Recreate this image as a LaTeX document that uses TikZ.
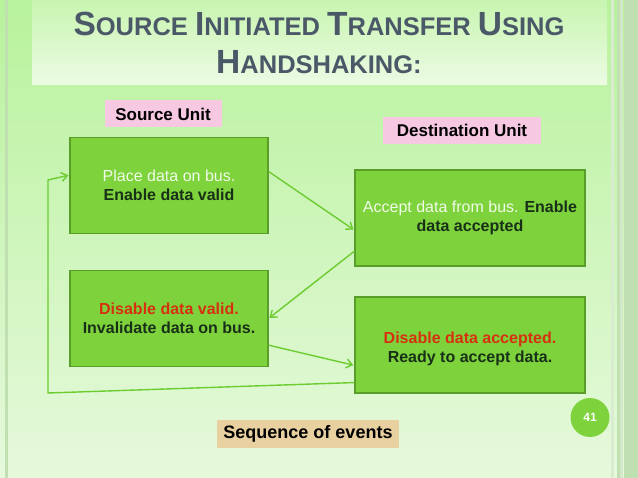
\documentclass[tikz,border=0pt]{standalone}
\usepackage{fontspec}
\setmainfont{Liberation Sans}
\usetikzlibrary{positioning, arrows.meta}

\definecolor{boxgreen}{RGB}{126,211,60}
\definecolor{boxline}{RGB}{88,158,40}
\definecolor{linkgreen}{RGB}{108,204,48}
\definecolor{bgtop}{RGB}{184,242,156}
\definecolor{bgbottom}{RGB}{230,249,220}
\definecolor{titletop}{RGB}{200,245,176}
\definecolor{titlebottom}{RGB}{236,251,228}
\definecolor{titleink}{RGB}{74,88,104}
\definecolor{tagpink}{RGB}{246,200,226}
\definecolor{tagtan}{RGB}{232,208,160}
\definecolor{darkink}{RGB}{24,48,24}
\definecolor{redink}{RGB}{214,48,16}
\definecolor{softwhite}{RGB}{240,250,232}
\definecolor{stripe}{RGB}{192,224,178}

\tikzstyle{event} = [draw = boxline, fill = boxgreen, line width = 1.2pt, minimum width = 198pt,
    minimum height = 96pt, align = center, inner sep = 2pt, font = \fontsize{16}{19}\selectfont]
\tikzstyle{tag} = [fill = tagpink, minimum height = 27pt, inner xsep = 6pt, font = \fontsize{17}{19}\selectfont\bfseries]
\tikzstyle{heading} = [text = titleink, anchor = base, inner sep = 0pt, font = \fontsize{25.5}{30}\selectfont\bfseries]
\tikzstyle{link} = [draw = linkgreen, line width = 1.4pt, -{Straight Barb[length = 6pt, width = 9pt]}, shorten > = 1pt]

\newcommand{\smallcap}[2]{{\fontsize{33.5}{34}\selectfont #1}#2}
\newcommand{\lowered}[1]{\raisebox{-4pt}[\height][\depth]{#1}}

\begin{document}
\begin{tikzpicture}[x = 1pt, y = -1pt]
        \useasboundingbox (0, 0) rectangle (638, 478);
        \shade [top color = bgtop, bottom color = bgbottom] (0, 0) rectangle (638, 478);
        \fill [stripe] (624, 0) rectangle (638, 478);
        \foreach \X/\C in {611/white!40!stripe, 617/stripe, 620/white!30!stripe, 5/stripe}
        {
            \fill [\C] (\X, 0) rectangle ++(2.5, 478);
        }
        \shade [top color = titletop, bottom color = titlebottom] (32, 0) rectangle (607, 85);

        \node [heading] (title) at (319, 36)
        {\smallcap{S}{OURCE} \smallcap{I}{NITIATED} \smallcap{T}{RANSFER} \smallcap{U}{SING}};
        \node [heading] (subtitle) at (319, 74) {\smallcap{H}{ANDSHAKING:}};

        \node [event] (place) at (169, 185.5)
        {\textcolor{softwhite}{Place data on bus.}\\ \textcolor{darkink}{\bfseries Enable data valid}};
        \node [event, minimum width = 230pt] (accept) at (470, 218)
        {\textcolor{softwhite}{Accept data from bus.} \textcolor{darkink}{\bfseries Enable}\\
         \textcolor{darkink}{\bfseries data accepted}};
        \node [event] (invalid) at (169, 318.5)
        {\textcolor{redink}{\bfseries Disable data valid.}\\ \textcolor{darkink}{\bfseries Invalidate data on bus.}};
        \node [event, minimum width = 230pt] (ready) at (470, 345)
        {\lowered{\textcolor{redink}{\bfseries Disable data accepted.}}\\
         \lowered{\textcolor{darkink}{\bfseries Ready to accept data.}}};

        \node [tag, minimum width = 117pt] (source) at (163, 114) {Source Unit};
        \node [tag, minimum width = 158pt] (dest) at (462, 130.5) {Destination Unit};
        \node [tag, fill = tagtan, minimum width = 178pt, minimum height = 28pt,
            font = \fontsize{18}{20}\selectfont\bfseries] (seq) at (308, 434) {Sequence of events};
        \node [circle, fill = boxgreen, minimum size = 39pt, text = white,
            font = \fontsize{12}{14}\selectfont\bfseries] (page) at (590, 417.5) {41};

        \coordinate (backlow) at (48, 393);
        \coordinate (backhigh) at (48, 180);

        \draw [link] (place.8) -- (accept.186);
        \draw [link] (accept.196) -- (invalid.east);
        \draw [link] (invalid.-15) -- (ready.190);
        \draw [link] (ready.198) -- (backlow) -- (backhigh) -- (place.174);
    \end{tikzpicture}
\end{document}
